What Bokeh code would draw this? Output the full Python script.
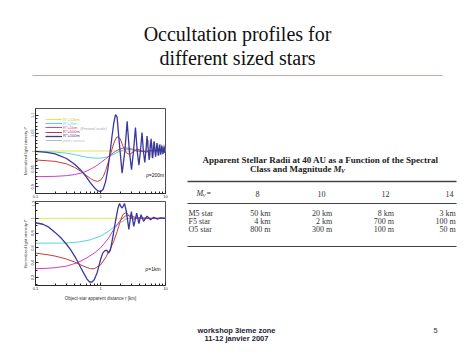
from bokeh.plotting import figure
from bokeh.layouts import column, row
from bokeh.models import (Range1d, FixedTicker, PrintfTickFormatter,
                          Legend, LegendItem, Label)
from bokeh.core.properties import value
from bokeh.embed import file_html
from bokeh.resources import INLINE

# ---------------- data ----------------
title_lines = ["Occultation profiles for", "different sized stars"]
footer_lines = ["workshop 3ieme zone", "11-12 janvier 2007"]
slide_number = "5"

x_major_ticks = [0.1, 1, 10]
x_minor_ticks = [0.2, 0.3, 0.4, 0.5, 0.6, 0.7, 0.8, 0.9, 2, 3, 4, 5, 6, 7, 8, 9]
p1_y_ticks = [0.9, 0.95, 1.0, 1.05, 1.1]
p1_y_minor = [0.91, 0.92, 0.93, 0.94, 0.96, 0.97, 0.98, 0.99, 1.01, 1.02, 1.03, 1.04, 1.06, 1.07, 1.08, 1.09]
p2_y_ticks = [0.2, 0.4, 0.6, 0.8, 1.0, 1.2]
p2_y_minor = [0.1, 0.3, 0.5, 0.7, 0.9, 1.1]

series_labels = ["R*=10km", "R*=2km", "R*=1km", "R*=500m", "R*=100m", "point source"]
series_colors = ["#e6e64e", "#55d6da", "#d23ec8", "#c83a3a", "#38389e", "#bcbcbc"]
fresnel_note = "(Fresnel scale)"
y_label = "Normalized light intensity I*"
x_label = "Object-star apparent distance r [km]"
rho_labels = ["\u03c1=200m", "\u03c1=1km"]

# ---- top panel: rho = 200 m ----
p1_r_yellow = [0.1, 10.0]
p1_i_yellow = [1.0, 1.0]
p1_r_cyan = [0.1, 0.2, 0.3, 0.4, 0.5, 0.6, 0.7, 0.85, 1.0, 1.2, 1.4, 1.7, 2.0, 2.4, 3.0, 4.0, 6.0, 10.0]
p1_i_cyan = [0.999, 0.997, 0.994, 0.99, 0.986, 0.983, 0.981, 0.98, 0.98, 0.982, 0.986, 0.993, 1.0, 1.004, 1.004, 1.001, 1.0, 1.0]
p1_r_magenta = [0.1, 0.2, 0.3, 0.4, 0.5, 0.6, 0.7, 0.85, 1.0, 1.2, 1.4, 1.7, 2.0, 2.4, 3.0, 3.6, 4.5, 6.0, 8.0, 10.0]
p1_i_magenta = [0.928, 0.929, 0.931, 0.934, 0.938, 0.943, 0.949, 0.958, 0.967, 0.978, 0.988, 0.999, 1.006, 1.009, 1.006, 1.0, 0.998, 1.001, 1.0, 1.0]
p1_r_red = [0.1, 0.2, 0.3, 0.4, 0.5, 0.6, 0.7, 0.8, 0.9, 1.0, 1.1, 1.2, 1.35, 1.5, 1.65, 1.8, 2.0, 2.2, 2.5, 2.8, 3.2, 3.7, 4.3, 5.0, 6.5, 10.0]
p1_i_red = [0.975, 0.971, 0.964, 0.954, 0.943, 0.932, 0.923, 0.917, 0.915, 0.918, 0.928, 0.945, 0.975, 1.005, 1.028, 1.04, 1.035, 1.015, 0.995, 0.99, 0.998, 1.006, 1.0, 0.997, 1.002, 1.0]
p1_r_blue = [0.1, 0.15, 0.2, 0.3, 0.4, 0.5, 0.6, 0.7, 0.8, 0.9, 1.0, 1.1, 1.2, 1.3, 1.4, 1.5, 1.6, 1.7, 1.8, 1.93,
             2.15, 2.37, 2.57, 2.78, 3.0, 3.22, 3.45, 3.67, 3.9, 4.12, 4.35, 4.57, 4.8, 5.0, 5.2, 5.6, 6.0, 6.35, 6.7, 7.05,
             7.4, 7.75, 8.1, 8.45, 8.8, 9.15, 9.5, 9.8, 10.0]
p1_i_blue = [0.999, 0.996, 0.992, 0.979, 0.963, 0.946, 0.928, 0.911, 0.898, 0.889, 0.886, 0.893, 0.915, 0.95, 0.995, 1.04, 1.078, 1.102, 1.095, 1.03,
             0.938, 1.0, 1.083, 1.0, 0.948, 1.0, 1.066, 1.0, 0.96, 1.0, 1.052, 1.0, 0.968, 1.0, 1.042, 0.975, 1.034, 0.98, 1.027, 0.984,
             1.022, 0.987, 1.018, 0.99, 1.015, 0.992, 1.012, 0.995, 1.0]
p1_r_gray = [4.0, 5.0, 5.5, 6.0, 6.5, 7.0, 7.5, 8.0, 8.5, 9.0, 9.5, 10.0]
p1_i_gray = [1.0, 1.0, 1.03, 0.98, 1.025, 0.985, 1.022, 0.988, 1.02, 0.99, 1.018, 1.0]

# ---- bottom panel: rho = 1 km ----
p2_r_yellow = [0.1, 10.0]
p2_i_yellow = [1.0, 1.0]
p2_r_cyan = [0.1, 0.2, 0.3, 0.4, 0.5, 0.7, 1.0, 1.3, 1.6, 2.0, 2.5, 3.0, 4.0, 6.0, 10.0]
p2_i_cyan = [0.665, 0.665, 0.668, 0.675, 0.685, 0.71, 0.76, 0.82, 0.88, 0.94, 0.99, 1.01, 1.005, 1.0, 1.0]
p2_r_magenta = [0.1, 0.15, 0.2, 0.3, 0.44, 0.6, 0.8, 1.0, 1.3, 1.6, 2.0, 2.4, 2.8, 3.5, 5.0, 7.0, 10.0]
p2_i_magenta = [0.32, 0.325, 0.333, 0.355, 0.4, 0.46, 0.53, 0.6, 0.72, 0.85, 0.97, 1.03, 1.04, 1.01, 0.995, 1.0, 1.0]
p2_r_red = [0.1, 0.15, 0.2, 0.3, 0.4, 0.5, 0.6, 0.7, 0.8, 1.0, 1.2, 1.4, 1.6, 1.8, 2.0, 2.2, 2.5, 2.8, 3.2, 4.0, 6.0, 10.0]
p2_i_red = [0.53, 0.51, 0.49, 0.45, 0.41, 0.37, 0.34, 0.32, 0.32, 0.37, 0.47, 0.58, 0.69, 0.82, 0.95, 1.05, 1.08, 1.02, 0.99, 1.005, 1.0, 1.0]
p2_r_blue = [0.1, 0.13, 0.16, 0.2, 0.25, 0.3, 0.35, 0.4, 0.45, 0.5, 0.56, 0.62, 0.68, 0.74, 0.8, 0.89, 1.0, 1.08, 1.16, 1.24,
             1.33, 1.42, 1.55, 1.7, 1.85, 1.96, 2.06, 2.16, 2.25, 2.34, 2.5, 2.73, 2.98, 3.25, 3.6, 3.9, 4.2, 4.6, 5.2, 5.9,
             6.6, 7.4, 8.5, 10.0]
p2_i_blue = [0.94, 0.92, 0.88, 0.81, 0.73, 0.65, 0.57, 0.49, 0.41, 0.33, 0.25, 0.18, 0.14, 0.14, 0.17, 0.27, 0.44, 0.53, 0.56, 0.57,
             0.53, 0.57, 0.75, 0.96, 1.13, 1.2, 1.16, 1.14, 1.17, 1.2, 1.09, 0.85, 1.09, 0.89, 1.07, 0.93, 1.05, 0.96, 1.03, 0.98,
             1.015, 0.99, 1.005, 1.0]

# ---- table ----
table_caption = "Apparent Stellar Radii at 40 AU as a Function of the Spectral"
table_caption2 = "Class and Magnitude"
mv_values = ["8", "10", "12", "14"]
star_classes = ["M5 star", "F5 star", "O5 star"]
radii = [["50 km", "20 km", "8 km", "3 km"],
         ["4 km", "2 km", "700 m", "100 m"],
         ["800 m", "300 m", "100 m", "50 m"]]

# ---------------- helpers ----------------
SERIF = "Liberation Serif"
SANS = "Liberation Sans"


def blank(p):
    p.xaxis.visible = False
    p.yaxis.visible = False
    p.grid.visible = False
    p.outline_line_color = None
    p.background_fill_color = "white"
    p.border_fill_color = "white"


def style_axis(ax, ticks, minor, vertical=False):
    ax.ticker = FixedTicker(ticks=ticks, minor_ticks=minor)
    ax.formatter = PrintfTickFormatter(format="%g")
    ax.major_tick_in = 3
    ax.major_tick_out = 0
    ax.minor_tick_in = 2
    ax.minor_tick_out = 0
    ax.axis_line_color = "#222222"
    ax.major_tick_line_color = "#222222"
    ax.minor_tick_line_color = "#222222"
    ax.axis_line_width = 0.8
    ax.major_label_text_font = SANS
    ax.major_label_text_color = "#333333"
    ax.major_label_text_font_size = "4px"
    ax.major_label_standoff = 1
    if vertical:
        ax.major_label_orientation = "vertical"


def make_panel(height, b_top, b_bottom, y_lo, y_hi, yticks, yminor, xlabel):
    p = figure(width=176, height=height, x_axis_type="log",
               x_range=Range1d(0.1, 10), y_range=Range1d(y_lo, y_hi),
               output_backend="svg", toolbar_location=None,
               min_border_left=35, min_border_right=11,
               min_border_top=b_top, min_border_bottom=b_bottom)
    p.grid.visible = False
    p.outline_line_color = "#222222"
    p.outline_line_width = 0.8
    p.background_fill_color = "white"
    p.border_fill_color = "white"
    style_axis(p.below[0], x_major_ticks, x_minor_ticks)
    style_axis(p.left[0], yticks, yminor, vertical=True)
    p.left[0].axis_label = y_label
    p.left[0].axis_label_text_font = SANS
    p.left[0].axis_label_text_font_size = "4px"
    p.left[0].axis_label_text_font_style = "normal"
    p.left[0].axis_label_text_color = "#333333"
    p.left[0].axis_label_standoff = 1
    if xlabel:
        p.below[0].axis_label = xlabel
        p.below[0].axis_label_text_font = SANS
        p.below[0].axis_label_text_font_size = "4.5px"
        p.below[0].axis_label_text_font_style = "normal"
        p.below[0].axis_label_text_color = "#333333"
        p.below[0].axis_label_standoff = 3
    return p


# ---------------- top panel ----------------
p1 = make_panel(100, 8, 5, 0.881, 1.119, p1_y_ticks, p1_y_minor, None)
p1_data = [(p1_r_yellow, p1_i_yellow), (p1_r_cyan, p1_i_cyan), (p1_r_magenta, p1_i_magenta),
           (p1_r_red, p1_i_red), (p1_r_blue, p1_i_blue), (p1_r_gray, p1_i_gray)]
draw_order = [5, 0, 1, 2, 3, 4]
p1_renderers = {}
for k in draw_order:
    rr, ii = p1_data[k]
    p1_renderers[k] = p1.line(rr, ii, line_color=series_colors[k],
                              line_width=1.3 if k == 4 else 1.0)

legend_top = 71.5   # px above frame bottom of first legend row
legend_step = 4.2
for k in range(6):
    leg = Legend(items=[LegendItem(label=series_labels[k], renderers=[p1_renderers[k]])],
                 location=(10, legend_top - k * legend_step),
                 padding=0, margin=0, spacing=0,
                 glyph_width=17, glyph_height=4, label_height=4, label_width=10,
                 label_standoff=1, label_text_font_size="4px", label_text_font=SANS,
                 label_text_color=series_colors[k] if k != 0 else "#c8c83a",
                 border_line_color=None, background_fill_alpha=0)
    p1.add_layout(leg)

p1.add_layout(Label(x=0.49, y=1.063, text=fresnel_note, text_font_size="4px", text_font=SANS,
                    text_color="#aaaaaa", text_baseline="middle"))
p1.add_layout(Label(x=5.0, y=0.932, text=rho_labels[0], text_font_size="5px", text_font=SANS,
                    text_color="#111111", text_baseline="middle"))

# ---------------- bottom panel ----------------
p2 = make_panel(105, 1, 20, 0.093, 1.227, p2_y_ticks, p2_y_minor, x_label)
p2_data = [(p2_r_yellow, p2_i_yellow), (p2_r_cyan, p2_i_cyan), (p2_r_magenta, p2_i_magenta),
           (p2_r_red, p2_i_red), (p2_r_blue, p2_i_blue)]
for k, (rr, ii) in enumerate(p2_data):
    p2.line(rr, ii, line_color=series_colors[k], line_width=1.3 if k == 4 else 1.0)
p2.add_layout(Label(x=4.9, y=0.316, text=rho_labels[1], text_font_size="5px", text_font=SANS,
                    text_color="#111111", text_baseline="middle"))

# ---------------- title ----------------
tf = figure(width=474, height=100, x_range=Range1d(0, 474), y_range=Range1d(100, 0),
            output_backend="svg", toolbar_location=None, min_border=0)
blank(tf)
tf.text(x=[237, 237], y=[33, 57], text=title_lines, text_font=value(SERIF),
        text_font_size="20px", text_align="center", text_baseline="middle", text_color="#111111")
tf.segment(x0=[32], y0=[75], x1=[442], y1=[75], line_color="#c9a5a5", line_width=1.2)

# ---------------- table ----------------
tb = figure(width=298, height=205, x_range=Range1d(176, 474), y_range=Range1d(305, 100),
            output_backend="svg", toolbar_location=None, min_border=0)
blank(tb)
ink = "#333333"
tb.text(x=[320], y=[159], text=[table_caption], text_font=value(SERIF), text_font_size="9px",
        text_font_style="bold", text_align="center", text_baseline="middle", text_color="#222222")
tb.text(x=[331], y=[168], text=[table_caption2], text_font=value(SERIF), text_font_size="9px",
        text_font_style="bold", text_align="right", text_baseline="middle", text_color="#222222")
tb.text(x=[333], y=[168], text=["M"], text_font=value(SERIF), text_font_size="9px",
        text_font_style="bold italic", text_align="left", text_baseline="middle", text_color="#222222")
tb.text(x=[340.5], y=[170], text=["V"], text_font=value(SERIF), text_font_size="6px",
        text_font_style="bold italic", text_align="left", text_baseline="middle", text_color="#222222")

rule_x0, rule_x1 = 187, 456
tb.segment(x0=[rule_x0] * 3, y0=[181, 203, 246], x1=[rule_x1] * 3, y1=[181, 203, 246],
           line_color="#444444", line_width=[1.4, 1.2, 1.2])

# header row
tb.text(x=[196], y=[193], text=["M"], text_font=value(SERIF), text_font_size="8px",
        text_font_style="italic", text_align="left", text_baseline="middle", text_color=ink)
tb.text(x=[202], y=[195], text=["V"], text_font=value(SERIF), text_font_size="5px",
        text_font_style="italic", text_align="left", text_baseline="middle", text_color=ink)
tb.text(x=[206], y=[193], text=["="], text_font=value(SERIF), text_font_size="8px",
        text_align="left", text_baseline="middle", text_color=ink)
hdr_x = [257 + 64 * i for i in range(len(mv_values))]
tb.text(x=hdr_x, y=[193] * len(mv_values), text=mv_values, text_font=value(SERIF),
        text_font_size="8px", text_align="center", text_baseline="middle", text_color=ink)

# body rows
row_y = [213 + 8 * j for j in range(len(star_classes))]
tb.text(x=[188] * len(star_classes), y=row_y, text=star_classes, text_font=value(SERIF),
        text_font_size="8px", text_align="left", text_baseline="middle", text_color=ink)
val_right = [270 + 61.7 * i for i in range(len(mv_values))]
cx, cy, ct = [], [], []
for j, rowvals in enumerate(radii):
    for i, v in enumerate(rowvals):
        cx.append(val_right[i])
        cy.append(row_y[j])
        ct.append(v)
tb.text(x=cx, y=cy, text=ct, text_font=value(SERIF), text_font_size="8px",
        text_align="right", text_baseline="middle", text_color=ink)

# ---------------- footer ----------------
ff = figure(width=474, height=50, x_range=Range1d(0, 474), y_range=Range1d(355, 305),
            output_backend="svg", toolbar_location=None, min_border=0)
blank(ff)
ff.text(x=[236, 236], y=[330, 338], text=footer_lines, text_font=value(SANS),
        text_font_size="7.5px", text_font_style="bold", text_align="center",
        text_baseline="middle", text_color="#1a1a33")
ff.text(x=[435], y=[330], text=[slide_number], text_font=value(SANS),
        text_font_size="7.5px", text_align="center", text_baseline="middle", text_color="#333333")

layout = column(tf, row(column(p1, p2, spacing=0), tb, spacing=0), ff, spacing=0)

open("out.html", "w").write(file_html(layout, INLINE))
